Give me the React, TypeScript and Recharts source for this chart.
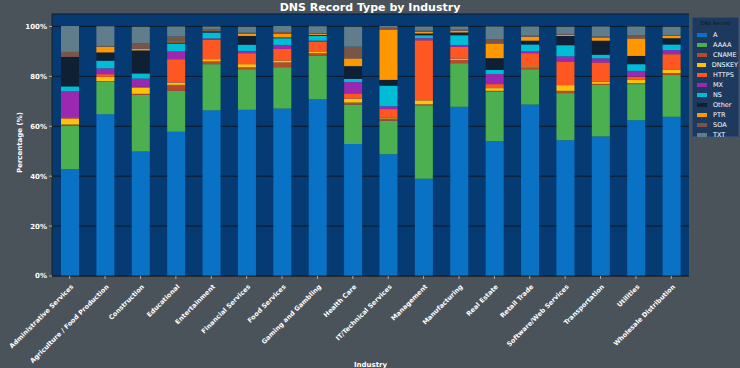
import React from 'react';
import { BarChart, Bar, XAxis, YAxis, CartesianGrid } from 'recharts';

const industries = [
  'Administrative Services', 'Agriculture / Food Production', 'Construction', 'Educational',
  'Entertainment', 'Financial Services', 'Food Services', 'Gaming and Gambling', 'Health Care',
  'IT/Technical Services', 'Management', 'Manufacturing', 'Real Estate', 'Retail Trade',
  'Software/Web Services', 'Transportation', 'Utilities', 'Wholesale Distribution',
];

const recordTypes = ['A', 'AAAA', 'CNAME', 'DNSKEY', 'HTTPS', 'MX', 'NS', 'Other', 'PTR', 'SOA', 'TXT'];

const colors = ['#0a72c4', '#4caf50', '#b84a2c', '#ffc107', '#ff5722', '#9c27b0', '#00bcd4', '#0f2035', '#ff9800', '#795548', '#607d8b'];

// percentages, one entry per industry
const aVals = [42.8, 64.8, 49.9, 57.8, 66.4, 66.6, 67.1, 70.9, 52.9, 48.8, 39.0, 67.8, 54.0, 68.7, 54.4, 55.9, 62.4, 63.8];
const aaaaVals = [17.4, 13.0, 22.7, 16.4, 18.5, 16.3, 16.6, 17.3, 15.8, 13.4, 29.4, 17.5, 19.8, 14.2, 18.9, 20.7, 14.5, 16.8];
const cnameVals = [0.5, 0.3, 0.4, 2.4, 1.1, 0.7, 1.9, 1.1, 0.8, 0.9, 0.4, 1.3, 0.4, 0.7, 0.9, 0.4, 0.4, 0.7];
const dnskeyVals = [2.4, 1.7, 2.5, 0.9, 0.9, 1.3, 0.7, 0.7, 1.6, 0.3, 1.6, 0.5, 1.1, 0.4, 2.3, 0.8, 1.3, 1.3];
const httpsVals = [0.5, 1.1, 0.4, 9.4, 7.8, 4.4, 4.7, 3.9, 2.1, 3.5, 24.1, 4.7, 1.6, 5.3, 9.5, 7.8, 1.3, 6.3];
const mxVals = [10.4, 2.3, 3.2, 3.1, 0.5, 0.9, 1.6, 0.4, 4.5, 1.1, 0.8, 0.8, 4.0, 0.7, 2.0, 1.6, 2.3, 1.6];
const nsVals = [2.0, 3.1, 2.1, 3.2, 2.4, 2.5, 2.7, 2.0, 1.3, 8.3, 1.2, 3.9, 1.7, 2.8, 4.5, 1.5, 2.7, 2.3];
const otherVals = [11.8, 3.3, 9.2, 0.4, 0.5, 3.5, 0.3, 0.3, 5.1, 2.3, 0.7, 1.1, 4.7, 1.5, 3.7, 5.6, 3.3, 2.5];
const ptrVals = [0.0, 2.3, 0.7, 0.4, 0.3, 0.8, 1.5, 0.4, 3.1, 20.2, 0.7, 0.7, 5.9, 1.6, 0.5, 1.3, 7.0, 0.9];
const soaVals = [2.0, 0.3, 2.1, 2.0, 0.4, 0.5, 0.7, 0.3, 4.7, 0.7, 0.4, 0.4, 1.7, 0.4, 0.3, 0.4, 1.3, 0.4];
const txtVals = [10.4, 7.9, 6.7, 4.0, 1.2, 2.4, 2.4, 2.8, 8.0, 0.7, 1.7, 1.3, 5.1, 3.7, 2.9, 4.0, 3.5, 3.3];

const seriesVals = [aVals, aaaaVals, cnameVals, dnskeyVals, httpsVals, mxVals, nsVals, otherVals, ptrVals, soaVals, txtVals];

const yTicks = [0, 20, 40, 60, 80, 100];

const data = industries.map((name, i) => {
  const row: Record<string, number | string> = { name };
  recordTypes.forEach((t, j) => { row[t] = seriesVals[j][i]; });
  return row;
});

const FONT = 'DejaVu Sans, sans-serif';

const AngledTick = (props: any) => {
  const { x, y, payload } = props;
  return (
    <g transform={`translate(${x + 2},${y + 4})`}>
      <text transform="rotate(-45)" textAnchor="end" fill="#ffffff" fontSize={6.5} fontWeight="bold" fontFamily={FONT} dy={3}>
        {payload.value}
      </text>
    </g>
  );
};

const LegendBox = () => (
  <div style={{ position: 'absolute', left: 692, top: 17, width: 47, height: 120, background: '#1d3a5e', border: '1px solid #2a4a70', boxSizing: 'border-box', fontFamily: FONT, color: '#fff' }}>
    <div style={{ fontSize: 5, lineHeight: '6px', textAlign: 'center', color: '#111', marginTop: 2, marginBottom: 4 }}>DNS Record</div>
    {recordTypes.map((t, i) => (
      <div key={t} style={{ display: 'flex', alignItems: 'center', height: 10 }}>
        <span style={{ display: 'inline-block', width: 10, height: 4, background: colors[i], marginLeft: 4, marginRight: 6 }} />
        <span style={{ fontSize: 6.5 }}>{t}</span>
      </div>
    ))}
  </div>
);

export default function App() {
  return (
    <div style={{ position: 'absolute', left: 0, top: 0, width: 740, height: 368, background: '#4a535a' }}>
      <div style={{ position: 'absolute', top: 1, width: 740, textAlign: 'center', color: '#fff', fontFamily: FONT, fontWeight: 'bold', fontSize: 11 }}>
        DNS Record Type by Industry
      </div>
      <BarChart width={740} height={368} data={data} margin={{ top: 14, right: 51, left: 0, bottom: 0 }} barSize={18}>
        <CartesianGrid vertical={false} stroke="#0b1a2a" strokeWidth={1} fill="#053a73" fillOpacity={1} />
        <XAxis
          dataKey="name"
          interval={0}
          height={92}
          tick={<AngledTick />}
          tickLine={{ stroke: '#aaa' }}
          tickSize={3}
          axisLine={{ stroke: '#222' }}
          label={{ value: 'Industry', position: 'insideBottom', offset: 1, fill: '#fff', fontSize: 7, fontWeight: 'bold', fontFamily: FONT }}
        />
        <YAxis
          domain={[0, 105]}
          ticks={yTicks}
          width={52}
          tickFormatter={(v: number) => `${v}%`}
          tick={{ fill: '#fff', fontSize: 7, fontWeight: 'bold', fontFamily: FONT }}
          tickLine={{ stroke: '#aaa' }}
          tickSize={3}
          axisLine={{ stroke: '#222' }}
          label={{ value: 'Percentage (%)', angle: -90, position: 'insideLeft', offset: 20, dy: 28, fill: '#fff', fontSize: 7, fontWeight: 'bold', fontFamily: FONT }}
        />
        {recordTypes.map((t, i) => (
          <Bar key={t} dataKey={t} stackId="s" fill={colors[i]} isAnimationActive={false} />
        ))}
      </BarChart>
      <LegendBox />
    </div>
  );
}
